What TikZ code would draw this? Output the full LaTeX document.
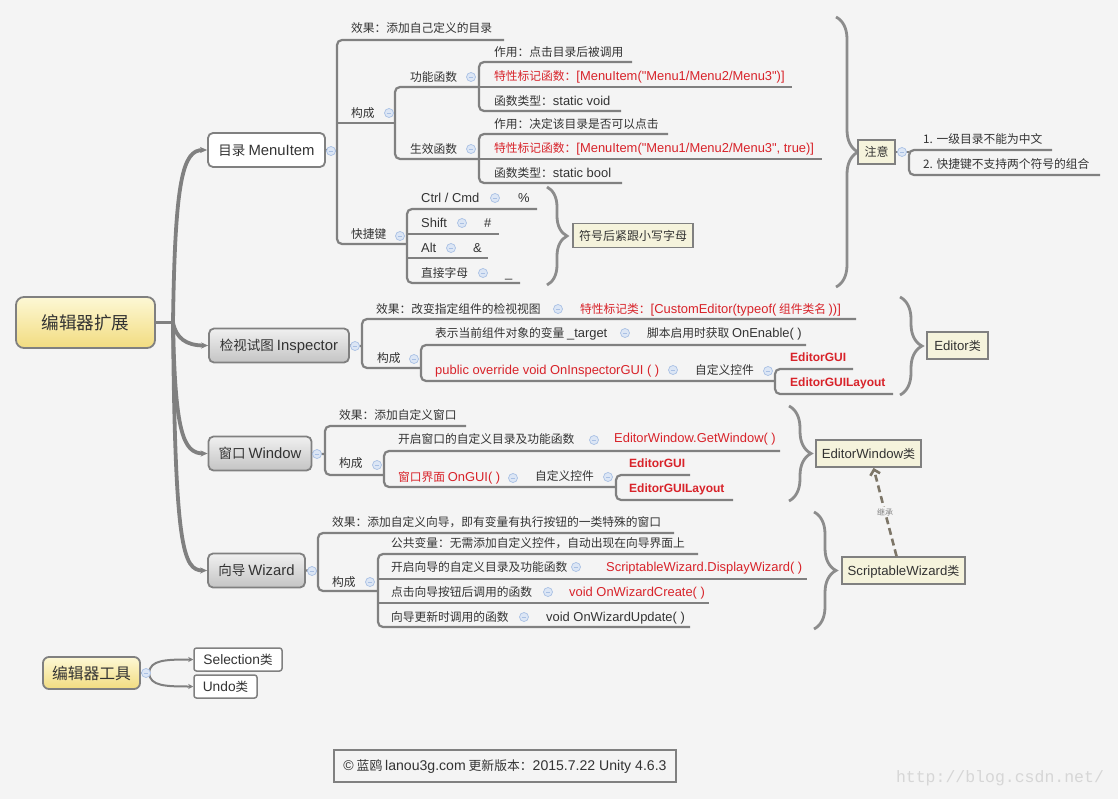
\documentclass[tikz,border=0pt]{standalone}
\usepackage{fontspec}
\setmainfont{Noto Sans CJK SC}
\newfontfamily\lat{Liberation Sans}[Scale=1.1]
\newfontfamily\wmfont{Liberation Mono}
\usetikzlibrary{arrows.meta,decorations.pathreplacing}

\definecolor{bgc}{HTML}{F4F4F4}
\definecolor{lgray}{HTML}{808080}
\definecolor{brc}{HTML}{8C8C8C}
\definecolor{tgray}{HTML}{333333}
\definecolor{tred}{HTML}{D8232A}
\definecolor{notec}{HTML}{F5F3DC}
\definecolor{foldc}{HTML}{DCE6F5}
\definecolor{foldd}{HTML}{A9C0E4}
\definecolor{yelt}{HTML}{FDF8D5}
\definecolor{yelb}{HTML}{F2DC80}
\definecolor{grt}{HTML}{F0F0F0}
\definecolor{grb}{HTML}{C4C4C4}
\definecolor{arrc}{HTML}{7D7668}
\definecolor{wmc}{HTML}{D6D6D6}

\tikzset{
  txt/.style={anchor=west, inner sep=0pt, text=tgray, text height=10pt, text depth=1pt,
    font=\fontsize{11.75}{13}\selectfont},
  hl/.style={txt, text=tred},
  bred/.style={txt, text=tred, font=\lat\bfseries\fontsize{10.9}{12}\selectfont},
  fold/.style={circle, draw=foldd, fill=foldc, line width=0.7pt, minimum size=9pt, inner sep=0pt,
    path picture={\draw[foldd, line width=0.9pt] ([xshift=-2.3pt]path picture bounding box.center)
      -- ([xshift=2.3pt]path picture bounding box.center);}},
  topic/.style={draw=lgray, line width=1.8pt, rounded corners=5pt, inner sep=0pt, text=tgray,
    font=\fontsize{13.5}{15}\selectfont, text height=10.5pt, text depth=0.3pt},
  whitetopic/.style={topic, fill=white},
  graytopic/.style={topic, top color=grt, bottom color=grb},
  roottopic/.style={topic, top color=yelt, bottom color=yelb, rounded corners=8pt},
  smallbox/.style={topic, fill=white, rounded corners=2.5pt, line width=1.5pt,
    font=\fontsize{12.5}{14}\selectfont, text height=9.8pt, text depth=0.2pt},
  note/.style={draw=lgray, fill=notec, line width=1.8pt, inner sep=0pt, text=tgray,
    font=\fontsize{12}{14}\selectfont, text height=9.4pt, text depth=0.2pt},
  branch/.style={draw=lgray, line width=2.2pt, rounded corners=5pt},
  trunk/.style={draw=lgray, line width=3.8pt, -{Stealth[length=7pt,width=6pt]}},
  toolarrow/.style={draw=lgray, line width=2pt, -{Stealth[length=5pt,width=5pt]}},
  bracestyle/.style={draw=brc, line width=2.8pt, decorate, decoration={brace, amplitude=22pt}},
  inherit/.style={draw=arrc, line width=2.6pt, dash pattern=on 7pt off 4pt,
    -{Straight Barb[length=5pt,width=10pt]}},
}

\begin{document}
\begin{tikzpicture}[x=1pt,y=-1pt]
\fill[bgc] (0,0) rectangle (1118,799);
\useasboundingbox (0,0) rectangle (1118,799);

% main topics
\node[roottopic, minimum width=139pt, minimum height=51pt, font=\fontsize{17.6}{19}\selectfont,
  text height=13.6pt, text depth=0.2pt] (root) at (85.5,322.5) {编辑器扩展};
\node[whitetopic, minimum width=117pt, minimum height=34pt] (menu) at (266.5,150) {目录 {\lat MenuItem}};
\node[graytopic, minimum width=140pt, minimum height=34pt] (insp) at (279,345.5) {检视试图 {\lat Inspector}};
\node[graytopic, minimum width=103pt, minimum height=34pt] (win) at (260,453.5) {窗口 {\lat Window}};
\node[graytopic, minimum width=97pt, minimum height=34pt] (wiz) at (256.5,570.5) {向导 {\lat Wizard}};

\coordinate (hub) at (173,322.5);
\draw[lgray, line width=3pt] (root.east) -- (hub);
\draw[trunk] (hub) .. controls (175,178) and (183,150) .. (menu.west);
\draw[trunk] (hub) .. controls (176,338) and (186,345.5) .. (insp.west);
\draw[trunk] (hub) .. controls (175,432) and (183,453.5) .. (win.west);
\draw[trunk] (hub) .. controls (175,548) and (183,570.5) .. (wiz.west);

% MenuItem
\draw[branch] (menu.east) -- (337,151);
\draw[branch] (504,40) -- (337,40) -- (337,244) -- (407,244);
\draw[branch] (337,123) -- (395,123);
\draw[branch] (479,87) -- (395,87) -- (395,159) -- (479,159);
\draw[branch] (479,87) -- (792,87);
\draw[branch] (479,159) -- (822,159);
\draw[branch] (632,62) -- (479,62) -- (479,111) -- (621,111);
\draw[branch] (668,134) -- (479,134) -- (479,183) -- (622,183);
\draw[branch] (537,209) -- (407,209) -- (407,283) -- (520,283);
\draw[branch] (407,234) -- (499,234);
\draw[branch] (407,258) -- (488,258);
\node[fold] (menuF) at (331,151) {};
\node[txt] (mEff) at (351,28) {效果：添加自己定义的目录};
\node[txt] (mComp) at (351,113) {构成};
\node[fold] (mCompF) at (389,113) {};
\node[txt] (mFunc) at (410,77) {功能函数};
\node[fold] (mFuncF) at (471,77) {};
\node[txt] (mFuncA) at (494,52) {作用：点击目录后被调用};
\node[hl] (mFuncB) at (494,76) {特性标记函数：{\lat [MenuItem("Menu1/Menu2/Menu3")]}};
\node[txt] (mFuncC) at (494,101) {函数类型：{\lat static void}};
\node[txt] (mAct) at (410,149) {生效函数};
\node[fold] (mActF) at (471,149) {};
\node[txt] (mActA) at (494,124) {作用：决定该目录是否可以点击};
\node[hl] (mActB) at (494,148) {特性标记函数：{\lat [MenuItem("Menu1/Menu2/Menu3", true)]}};
\node[txt] (mActC) at (494,173) {函数类型：{\lat static bool}};
\node[txt] (mKey) at (351,234) {快捷键};
\node[fold] (mKeyF) at (400,236) {};
\node[txt] (kCtrl) at (421,198) {\lat Ctrl / Cmd};
\node[fold] (kCtrlF) at (495,198) {};
\node[txt] (kCtrlS) at (518,198) {\lat \%};
\node[txt] (kShift) at (421,223) {\lat Shift};
\node[fold] (kShiftF) at (462,223) {};
\node[txt] (kShiftS) at (484,223) {\lat \#};
\node[txt] (kAlt) at (421,248) {\lat Alt};
\node[fold] (kAltF) at (451,248) {};
\node[txt] (kAltS) at (473,248) {\lat \&};
\node[txt] (kChar) at (421,273) {直接字母};
\node[fold] (kCharF) at (483,273) {};
\node[txt] (kCharS) at (505,273) {\lat \_};
\draw[bracestyle, decoration={brace, amplitude=20pt}] (547,187) -- (547,285);
\node[note, minimum width=120pt, minimum height=24pt] (lower) at (633,235.5) {符号后紧跟小写字母};
\draw[bracestyle] (836,17) -- (836,287);
\node[note, minimum width=37pt, minimum height=24pt] (notice) at (876.5,152) {注意};
\draw[branch] (notice.east) -- (909,152);
\draw[branch] (1052,150) -- (909,150) -- (909,175) -- (1100,175);
\node[fold] (noticeF) at (902,152) {};
\node[txt] (n1) at (923,139) {1. 一级目录不能为中文};
\node[txt] (n2) at (923,164) {2. 快捷键不支持两个符号的组合};

% Inspector
\draw[branch] (insp.east) -- (362,346);
\draw[branch] (856,319) -- (362,319) -- (362,368) -- (421,368);
\draw[branch] (806,345) -- (421,345) -- (421,381) -- (774,381);
\draw[branch] (853,369) -- (775,369) -- (775,394) -- (893,394);
\node[fold] (inspF) at (355,346) {};
\node[txt] (iEff) at (376,309) {效果：改变指定组件的检视视图};
\node[fold] (iEffF) at (558,309) {};
\node[hl] (iAttr) at (580,309) {特性标记类：{\lat [CustomEditor(typeof(} 组件类名 {\lat ))]}};
\node[txt] (iComp) at (377,358) {构成};
\node[fold] (iCompF) at (414,359) {};
\node[txt] (iTarget) at (435,333) {表示当前组件对象的变量 {\lat \_target}};
\node[fold] (iTargetF) at (625,333) {};
\node[txt] (iEnable) at (647,333) {脚本启用时获取 {\lat OnEnable( )}};
\node[hl] (iGUI) at (435,370) {\lat public override void OnInspectorGUI ( )};
\node[fold] (iGUIF) at (673,370) {};
\node[txt] (iCtrl) at (695,370) {自定义控件};
\node[fold] (iCtrlF) at (768,371) {};
\node[bred] (iEg) at (790,357) {EditorGUI};
\node[bred] (iEgl) at (790,382) {EditorGUILayout};
\draw[bracestyle] (900,297) -- (900,395);
\node[note, minimum width=61pt, minimum height=27pt] (editor) at (957.5,345.5) {{\lat Editor}类};

% Window
\draw[branch] (win.east) -- (325,454);
\draw[branch] (466,426) -- (325,426) -- (325,475) -- (384,475);
\draw[branch] (780,451) -- (384,451) -- (384,487) -- (616,487);
\draw[branch] (690,475) -- (616,475) -- (616,500) -- (733,500);
\node[fold] (winF) at (317,454) {};
\node[txt] (wEff) at (339,415) {效果：添加自定义窗口};
\node[txt] (wComp) at (339,463) {构成};
\node[fold] (wCompF) at (377,465) {};
\node[txt] (wOpen) at (398,439) {开启窗口的自定义目录及功能函数};
\node[fold] (wOpenF) at (594,440) {};
\node[hl] (wGet) at (614,438) {\lat EditorWindow.GetWindow( )};
\node[hl] (wGUI) at (398,477) {窗口界面 {\lat OnGUI( )}};
\node[fold] (wGUIF) at (513,478) {};
\node[txt] (wCtrl) at (535,476) {自定义控件};
\node[fold] (wCtrlF) at (608,477) {};
\node[bred] (wEg) at (629,463) {EditorGUI};
\node[bred] (wEgl) at (629,488) {EditorGUILayout};
\draw[bracestyle] (789,406) -- (789,501);
\node[note, minimum width=105pt, minimum height=27pt] (ewin) at (868.5,453.5) {{\lat EditorWindow}类};

% Wizard
\draw[branch] (wiz.east) -- (318,571);
\draw[branch] (674,533) -- (318,533) -- (318,591) -- (378,591);
\draw[branch] (698,554) -- (378,554) -- (378,627) -- (690,627);
\draw[branch] (378,579) -- (807,579);
\draw[branch] (378,603) -- (709,603);
\node[fold] (wizF) at (312,571) {};
\node[txt] (zEff) at (332,522) {效果：添加自定义向导，即有变量有执行按钮的一类特殊的窗口};
\node[txt] (zComp) at (332,582) {构成};
\node[fold] (zCompF) at (370,582) {};
\node[txt] (zVar) at (391,543) {公共变量：无需添加自定义控件，自动出现在向导界面上};
\node[txt] (zOpen) at (391,567) {开启向导的自定义目录及功能函数};
\node[fold] (zOpenF) at (576,567) {};
\node[hl] (zShow) at (606,567) {\lat ScriptableWizard.DisplayWizard( )};
\node[txt] (zClick) at (391,592) {点击向导按钮后调用的函数};
\node[fold] (zClickF) at (548,592) {};
\node[hl] (zCreate) at (569,592) {\lat void OnWizardCreate( )};
\node[txt] (zUpd) at (391,617) {向导更新时调用的函数};
\node[fold] (zUpdF) at (524,617) {};
\node[txt] (zUpdate) at (546,617) {\lat void OnWizardUpdate( )};
\draw[bracestyle] (814,512) -- (814,629);
\node[note, minimum width=123pt, minimum height=27pt] (swiz) at (903.5,570.5) {{\lat ScriptableWizard}类};
\draw[inherit] ([xshift=-7pt]swiz.north) -- node[fill=bgc, inner sep=1pt, text=gray,
  font=\fontsize{8}{9}\selectfont] (inh) {继承} ([xshift=5pt]ewin.south);

% tools
\node[roottopic, minimum width=97pt, minimum height=32pt, rounded corners=6pt,
  font=\fontsize{15.8}{17}\selectfont, text height=12.2pt, text depth=0.2pt] (tools) at (91.5,673) {编辑器工具};
\node[smallbox, minimum width=88pt, minimum height=23pt] (sel) at (238,659.5) {{\lat Selection}类};
\node[smallbox, minimum width=63pt, minimum height=23pt] (undo) at (225.5,686.5) {{\lat Undo}类};
\draw[branch] (tools.east) -- (149,673);
\draw[toolarrow] (149,673) .. controls (150,660) and (165,659.5) .. (sel.west);
\draw[toolarrow] (149,673) .. controls (150,686) and (165,686.5) .. (undo.west);
\node[fold] (toolsF) at (146,673) {};

% footer
\node[draw=lgray, line width=1.6pt, minimum width=342pt, minimum height=32pt, inner sep=0pt,
  text=tgray, font=\fontsize{12.8}{14}\selectfont, text height=10pt, text depth=0.2pt] (foot)
  at (505,766) {{\lat ©} 蓝鸥 {\lat lanou3g.com} 更新版本：{\lat 2015.7.22 Unity 4.6.3}};
\node[text=wmc, font=\wmfont\fontsize{16.5}{18}\selectfont, inner sep=0pt] (wm) at (1000,778) {http://blog.csdn.net/};
\end{tikzpicture}
\end{document}
